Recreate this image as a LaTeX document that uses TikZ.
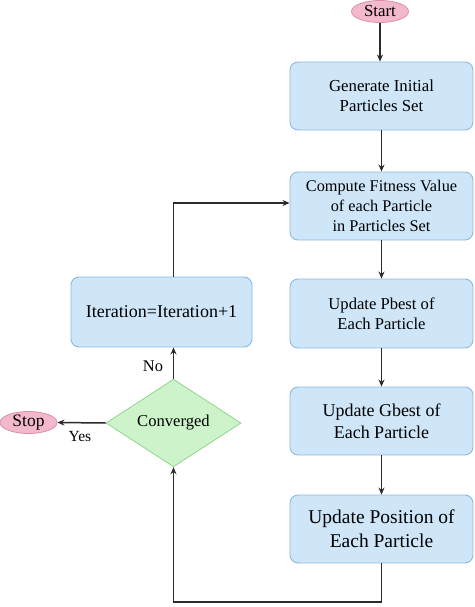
\documentclass[tikz,border=0pt]{standalone}
\usepackage{fontspec}
\setmainfont{Liberation Serif}
\usetikzlibrary{shapes.geometric,arrows.meta}
\definecolor{boxfill}{HTML}{CFE6F8}
\definecolor{boxline}{HTML}{8DB8E0}
\definecolor{difill}{HTML}{CDF3CB}
\definecolor{diline}{HTML}{92D48E}
\definecolor{elfill}{HTML}{F4B8CC}
\definecolor{elline}{HTML}{D890A8}
\definecolor{conn}{HTML}{2A2A2A}
\newcommand{\fs}[1]{\fontsize{#1}{1.22\dimexpr#1pt\relax}\selectfont}
\tikzset{
  stepbox/.style={draw=boxline, fill=boxfill, line width=0.9pt, rounded corners=8pt,
    minimum width=183pt, minimum height=68pt, inner sep=0pt, align=center, text=black},
  termnode/.style={ellipse, draw=elline, fill=elfill, line width=0.8pt,
    minimum width=57pt, minimum height=22pt, inner sep=0pt},
  decnode/.style={diamond, draw=diline, fill=difill, line width=0.8pt,
    minimum width=135pt, minimum height=80pt, inner sep=0pt},
  flow/.style={draw=conn, line width=1.5pt, -{Stealth[length=7pt,width=6pt]}},
  lbl/.style={inner sep=0pt}
}
\begin{document}
\begin{tikzpicture}[x=1pt,y=-1pt]
\useasboundingbox (0,0) rectangle (474,607);
\node[termnode, font=\fs{16.8}] (start) at (380,11.5) {Start};
\node[stepbox, font=\fs{16.8}] (gen) at (381.5,96) {Generate Initial\\Particles Set};
\node[stepbox, font=\fs{16.3}] (comp) at (381.5,206) {Compute Fitness Value\\of each Particle\\in Particles Set};
\node[stepbox, font=\fs{16.6}, minimum height=69pt] (pbest) at (381.5,313.5) {Update Pbest of\\Each Particle};
\node[stepbox, font=\fs{18}] (gbest) at (381.5,421) {Update Gbest of\\Each Particle};
\node[stepbox, font=\fs{19.5}] (pos) at (381.5,529) {Update Position of\\Each Particle};
\node[stepbox, font=\fs{18}, minimum width=181pt, minimum height=70pt] (iter) at (161.5,312) {Iteration=Iteration+1};
\node[decnode, font=\fs{16.6}] (conv) at (173.5,423) {Converged};
\node[termnode, font=\fs{17.5}] (stop) at (28.5,422.5) {Stop};
\coordinate (loopA) at (381.5,602);
\coordinate (loopB) at (173.5,602);
\coordinate (upturn) at (173.5,203);
\draw[flow] (start.south) -- (start.south |- gen.north);
\draw[flow] (gen) -- (comp);
\draw[flow] (comp) -- (pbest);
\draw[flow] (pbest) -- (gbest);
\draw[flow] (gbest) -- (pos);
\draw[flow] (pos.south) -- (loopA) -- (loopB) -- (conv.south);
\draw[flow] (conv.north) -- (conv.north |- iter.south);
\draw[flow] (upturn |- iter.north) -- (upturn) -- (comp.west |- upturn);
\draw[flow] (conv.west) -- (stop.east);
\node[lbl, font=\fs{16.4}] (nolbl) at (153,366) {No};
\node[lbl, font=\fs{15.5}] (yeslbl) at (80,436) {Yes};
\end{tikzpicture}
\end{document}
